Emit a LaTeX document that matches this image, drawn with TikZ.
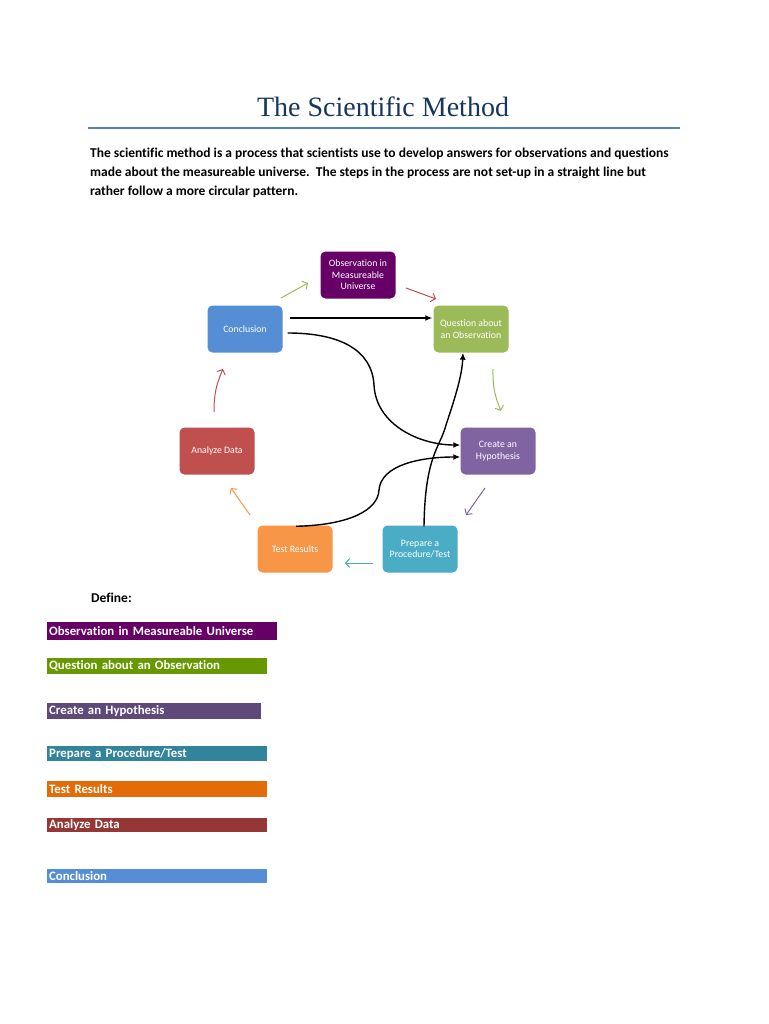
\documentclass[tikz,border=0pt]{standalone}
\usepackage{fontspec}
\setmainfont{Carlito}[Ligatures=NoCommon]
\newfontfamily\titlefont{Liberation Serif}
\usepackage{xcolor}
\usetikzlibrary{arrows.meta}

\definecolor{titleblue}{HTML}{17365D}
\definecolor{ruleblue}{HTML}{4F81BD}
\definecolor{obscol}{HTML}{660066}
\definecolor{concol}{HTML}{558ED5}
\definecolor{quecol}{HTML}{9BBB59}
\definecolor{hypcol}{HTML}{8064A2}
\definecolor{anacol}{HTML}{C0504D}
\definecolor{tescol}{HTML}{F79646}
\definecolor{precol}{HTML}{4BACC6}
\definecolor{quebar}{HTML}{669900}
\definecolor{hypbar}{HTML}{5F497A}
\definecolor{prebar}{HTML}{31849B}
\definecolor{tesbar}{HTML}{E36C09}
\definecolor{anabar}{HTML}{953735}

\begin{document}
\begin{tikzpicture}[
  x=1pt, y=-1pt,
  stage/.style={
    rounded corners=5pt,
    minimum width=75,
    minimum height=47,
    inner sep=0pt,
    align=center,
    text=white,
    font=\fontsize{9.8}{11.5}\selectfont
  },
  cycle/.style={
    line width=1pt,
    -{Straight Barb[length=4pt,width=9pt]}
  },
  link/.style={
    line width=1.4pt,
    -{Latex[length=7pt,width=6pt]}
  },
  term/.style={
    anchor=north west,
    inner xsep=2pt,
    inner ysep=0pt,
    align=left,
    text=white,
    font=\bfseries\fontsize{12.8}{13}\selectfont
  }
]
  \useasboundingbox[fill=white] (0,0) rectangle (768,1024);

  % heading
  \node[text=titleblue, font=\titlefont\fontsize{28}{30}\selectfont] (title) at (383,107) {The Scientific Method};
  \draw[ruleblue, line width=1.5pt] (88,128) -- (680,128);
  \node[anchor=north west, inner sep=0pt, align=left,
    font=\bfseries\fontsize{13.5}{19}\selectfont] (intro) at (90,148)
    {The scientific method is a process that scientists use to develop answers for observations and questions\\
     made about the measureable universe.\ \ The steps in the process are not set-up in a straight line but\\
     rather follow a more circular pattern.};

  % cycle
  \node[stage, fill=obscol] (obs) at (358,275) {Observation in\\Measureable\\Universe};
  \node[stage, fill=concol] (concl) at (245,329) {Conclusion};
  \node[stage, fill=quecol] (quest) at (471,329) {Question about\\an Observation};
  \node[stage, fill=hypcol] (hyp) at (498,451) {Create an\\Hypothesis};
  \node[stage, fill=anacol] (ana) at (217,451) {Analyze Data};
  \node[stage, fill=tescol] (test) at (295,549) {Test Results};
  \node[stage, fill=precol] (prep) at (420,549) {Prepare a\\Procedure/Test};

  \draw[cycle, quecol] ([shift={(36,-31)}]concl.center) -- ([shift={(-50,8)}]obs.center);
  \draw[cycle, anacol] ([shift={(48,13)}]obs.center) -- ([shift={(-35,-30)}]quest.center);
  \draw[cycle, quecol] ([shift={(22,40)}]quest.center) to[bend right=12] ([shift={(3,-40)}]hyp.center);
  \draw[cycle, hypcol] ([shift={(-13,37)}]hyp.center) -- ([shift={(46,-34)}]prep.center);
  \draw[cycle, precol] ([shift={(-47,14)}]prep.center) -- ([shift={(50,14)}]test.center);
  \draw[cycle, tescol] ([shift={(-45,-34)}]test.center) -- ([shift={(14,37)}]ana.center);
  \draw[cycle, anacol] ([shift={(-3,-39)}]ana.center) to[bend left=12] ([shift={(-22,40)}]concl.center);

  % shortcuts
  \draw[link] ([shift={(7,-11)}]concl.east) -- ([shift={(-1,-11)}]quest.west);
  \draw[link] ([shift={(5,4)}]concl.east)
    .. controls (340,333) and (372,350) .. (374,385)
    .. controls (376,425) and (420,445) .. ([shift={(0,-6)}]hyp.west);
  \draw[link] ([shift={(1,1)}]test.north)
    .. controls (350,525) and (378,510) .. (379,490)
    .. controls (381,465) and (420,457) .. ([shift={(0,6)}]hyp.west);
  \draw[link] ([shift={(4,1)}]prep.north)
    .. controls (425,455) and (440,448) .. (446,425)
    .. controls (456,395) and (462,375) .. ([shift={(-8,0)}]quest.south);

  % definitions
  \node[anchor=west, inner sep=0pt, font=\bfseries\fontsize{13.5}{15}\selectfont] (define) at (91,598) {Define:};
  \node[term, fill=obscol, text width=226, minimum height=18] (tobs) at (47,622) {Observation in Measureable Universe};
  \node[term, fill=quebar, text width=216, minimum height=16] (tque) at (47,658) {Question about an Observation};
  \node[term, fill=hypbar, text width=210, minimum height=16] (thyp) at (47,703) {Create an Hypothesis};
  \node[term, fill=prebar, text width=216, minimum height=15] (tpre) at (47,746) {Prepare a Procedure/Test};
  \node[term, fill=tesbar, text width=216, minimum height=16] (ttes) at (47,781) {Test Results};
  \node[term, fill=anabar, text width=216, minimum height=14] (tana) at (47,818) {Analyze Data};
  \node[term, fill=concol, text width=216, minimum height=14] (tcon) at (47,869) {Conclusion};
\end{tikzpicture}
\end{document}
